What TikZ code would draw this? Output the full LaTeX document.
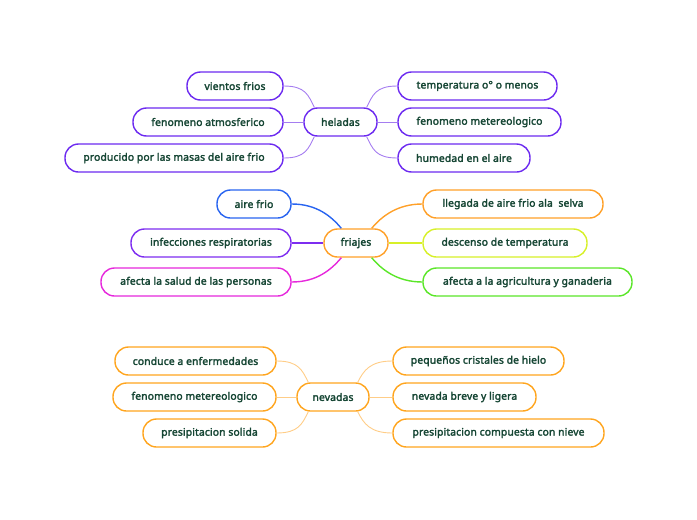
\documentclass[tikz,border=0pt]{standalone}
\usepackage{fontspec}
\setmainfont{Noto Sans}[AutoFakeBold=2.4,LetterSpace=1.5]
\usetikzlibrary{calc}
\definecolor{txt}{RGB}{22,70,52}
\definecolor{hpur}{RGB}{108,42,240}
\definecolor{hline}{RGB}{165,125,240}
\definecolor{forange}{RGB}{255,160,40}
\definecolor{fblue}{RGB}{40,100,240}
\definecolor{fpur}{RGB}{125,45,240}
\definecolor{fmag}{RGB}{230,40,220}
\definecolor{fyel}{RGB}{215,240,40}
\definecolor{fgreen}{RGB}{90,230,40}
\definecolor{norange}{RGB}{255,165,30}
\definecolor{nline}{RGB}{255,205,135}
\begin{document}
\begin{tikzpicture}[x=1pt,y=-1pt,
  box/.style={draw,line width=1.4pt,rounded corners=13.5pt,minimum height=28pt,inner sep=0pt,
    text=txt,font=\fontsize{10.3}{12}\selectfont\bfseries,fill=white},
  thin/.style={line width=0.9pt},
  thick/.style={line width=1.4pt}]
\useasboundingbox (0,0) rectangle (697,520);
% ---------- heladas ----------
\node[box,draw=hpur,minimum width=73pt] (hel) at (340.5,122) {heladas};
\node[box,draw=hpur,minimum width=96pt] (h1) at (235,86) {vientos frios};
\node[box,draw=hpur,minimum width=150pt] (h2) at (208,122) {fenomeno atmosferico};
\node[box,draw=hpur,minimum width=218pt] (h3) at (174,158) {producido por las masas del aire frio};
\node[box,draw=hpur,minimum width=159pt] (h4) at (477.5,86) {temperatura o° o menos};
\node[box,draw=hpur,minimum width=163pt] (h5) at (479.5,122) {fenomeno metereologico};
\node[box,draw=hpur,minimum width=132pt] (h6) at (464,158) {humedad en el aire};
\coordinate (hTL) at ($(hel.north west)+(11,0)$);
\coordinate (hBL) at ($(hel.south west)+(11,0)$);
\coordinate (hTR) at ($(hel.north east)+(-11,0)$);
\coordinate (hBR) at ($(hel.south east)+(-11,0)$);
\draw[hline,thin] (h1.east) .. controls +(22,0) and +(-6,-12) .. (hTL);
\draw[hline,thin] (h2.east) -- (hel.west);
\draw[hline,thin] (h3.east) .. controls +(22,0) and +(-6,12) .. (hBL);
\draw[hline,thin] (h4.west) .. controls +(-22,0) and +(6,-12) .. (hTR);
\draw[hline,thin] (h5.west) -- (hel.east);
\draw[hline,thin] (h6.west) .. controls +(-22,0) and +(6,12) .. (hBR);
% ---------- friajes ----------
\node[box,draw=forange,minimum width=64pt] (fri) at (356,243) {friajes};
\node[box,draw=fblue,minimum width=74pt] (f1) at (254,204) {aire frio};
\node[box,draw=fpur,minimum width=160pt] (f2) at (211,243) {infecciones respiratorias};
\node[box,draw=fmag,minimum width=190pt] (f3) at (196,282) {afecta la salud de las personas};
\node[box,draw=forange,minimum width=180pt] (f4) at (513,204) {llegada de aire frio ala\ \ selva};
\node[box,draw=fyel,minimum width=164pt] (f5) at (505,243) {descenso de temperatura};
\node[box,draw=fgreen,minimum width=209pt] (f6) at (527.5,282) {afecta a la agricultura y ganaderia};
\coordinate (fTL) at ($(fri.north west)+(18,0)$);
\coordinate (fBL) at ($(fri.south west)+(18,0)$);
\coordinate (fTR) at ($(fri.north east)+(-17,0)$);
\coordinate (fBR) at ($(fri.south east)+(-17,0)$);
\draw[fblue,thick] (f1.east) .. controls +(25,0) and +(-10,-12) .. (fTL);
\draw[fpur,thick] (f2.east) -- (fri.west);
\draw[fmag,thick] (f3.east) .. controls +(25,0) and +(-10,12) .. (fBL);
\draw[forange,thick] (f4.west) .. controls +(-25,0) and +(10,-12) .. (fTR);
\draw[fyel,thick] (f5.west) -- (fri.east);
\draw[fgreen,thick] (f6.west) .. controls +(-25,0) and +(10,12) .. (fBR);
% ---------- nevadas ----------
\node[box,draw=norange,minimum width=72pt] (nev) at (333,397) {nevadas};
\node[box,draw=norange,minimum width=161pt] (n1) at (195.5,361) {conduce a enfermedades};
\node[box,draw=norange,minimum width=163pt] (n2) at (194.5,397) {fenomeno metereologico};
\node[box,draw=norange,minimum width=133pt] (n3) at (209.5,433) {presipitacion solida};
\node[box,draw=norange,minimum width=171pt] (n4) at (478.5,361) {pequeños cristales de hielo};
\node[box,draw=norange,minimum width=143pt] (n5) at (464.5,397) {nevada breve y ligera};
\node[box,draw=norange,minimum width=211pt] (n6) at (498.5,433) {presipitacion compuesta con nieve};
\coordinate (nTL) at ($(nev.north west)+(12,0)$);
\coordinate (nBL) at ($(nev.south west)+(12,0)$);
\coordinate (nTR) at ($(nev.north east)+(-12,0)$);
\coordinate (nBR) at ($(nev.south east)+(-12,0)$);
\draw[nline,thin] (n1.east) .. controls +(22,0) and +(-6,-12) .. (nTL);
\draw[nline,thin] (n2.east) -- (nev.west);
\draw[nline,thin] (n3.east) .. controls +(22,0) and +(-6,12) .. (nBL);
\draw[nline,thin] (n4.west) .. controls +(-22,0) and +(6,-12) .. (nTR);
\draw[nline,thin] (n5.west) -- (nev.east);
\draw[nline,thin] (n6.west) .. controls +(-22,0) and +(6,12) .. (nBR);
\end{tikzpicture}
\end{document}
